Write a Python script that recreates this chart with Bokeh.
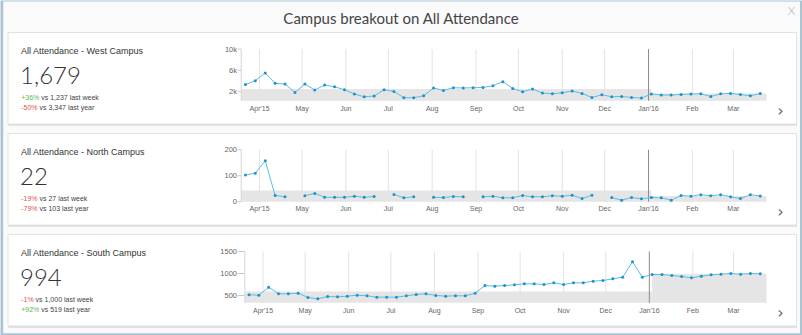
import numpy as np
import pandas as pd
from bokeh.plotting import figure
from bokeh.models import Range1d
from bokeh.core.properties import value
from bokeh.embed import file_html
from bokeh.resources import INLINE

# ---------------- data ----------------
first_week = "2015-03-22"
weeks = pd.date_range(first_week, periods=53, freq="7D")

month_starts = ["2015-04-01", "2015-05-01", "2015-06-01", "2015-07-01", "2015-08-01",
                "2015-09-01", "2015-10-01", "2015-11-01", "2015-12-01", "2016-01-01",
                "2016-02-01", "2016-03-01"]
month_labels = ["Apr'15", "May", "Jun", "Jul", "Aug", "Sep", "Oct", "Nov", "Dec",
                "Jan'16", "Feb", "Mar"]
year_divider = "2016-01-01"
band_split = "2016-01-03"
x_start, x_end = "2015-03-19", "2016-03-24 10:00"

nan = float("nan")
west = [3347, 4080, 5530, 3570, 3450, 1870, 3450, 2320, 3260, 2940,
        2380, 1570, 1060, 1190, 2380, 2060, 870, 870, 1250, 2700,
        2250, 2750, 2700, 2750, 2810, 3130, 3890, 2620, 2000, 2510,
        1750, 1620, 1810, 2130, 1680, 920, 1430, 1060, 1110, 920,
        810, 1570, 1380, 1380, 1490, 1570, 1620, 1110, 1620, 1680,
        1490, 1237, 1679]
north = [103, 110, 158, 24, 19, nan, 23, 32, 17, 17,
         17, 21, 17, 20, nan, 28, 15, 19, nan, 17,
         16, 20, 19, nan, 19, 21, 15, 15, 24, 19,
         19, 23, 21, 25, 12, 25, nan, 16, 6, 16,
         11, 16, 15, 6, 24, 21, 27, 23, 27, 19,
         12, 27, 22]
south = [519, 507, 689, 538, 538, 553, 455, 424, 477, 470,
         485, 507, 493, 462, 462, 462, 493, 523, 538, 500,
         485, 493, 493, 553, 727, 712, 727, 742, 765, 765,
         750, 788, 750, 788, 788, 826, 841, 879, 917, 1265,
         917, 977, 977, 955, 932, 902, 939, 970, 985, 1000,
         985, 1000, 994]
series = [west, north, south]

card_titles = ["All Attendance - West Campus", "All Attendance - North Campus",
               "All Attendance - South Campus"]
current_values = ["1,679", "22", "994"]
week_pct = ["+36%", "-19%", "-1%"]
week_prev = ["1,237", "27", "1,000"]
year_pct = ["-50%", "-79%", "+92%"]
year_prev = ["3,347", "103", "519"]

y_ticks = [[2000, 6000, 10000], [0, 100, 200], [500, 1000, 1500]]
y_tick_labels = [["2k", "6k", "10k"], ["0", "100", "200"], ["500", "1000", "1500"]]
y_start = [300, 0, 334]
y_end = [10000, 200, 1500]
band_before = [2510, 43, 591]
band_after = [1679, 22, 994]

# ---------------- layout / style ----------------
W, H = 802, 335
card_tops = [32, 133, 234]
card_h = 91.5
plot_left = [240.7, 240.7, 244.3]
plot_right = 766
plot_top = [48.6, 149.3, 251.0]
plot_bottom = [100.3, 201.2, 302.3]

GREEN = "#5cb85c"
RED = "#d9534f"
LINE = "#5bbde3"
DOT = "#1c93cc"
SANS = value("Liberation Sans")


def ms(d):
    return pd.Timestamp(d).value / 1e6


wk = [ms(d) for d in weeks]
mt = [ms(d) for d in month_starts]

# approximate Helvetica advance widths (em) for composing coloured runs
CW = {"+": .584, "-": .333, "%": .889, " ": .278, "0": .556, "1": .556, "2": .556,
      "3": .556, "4": .556, "5": .556, "6": .556, "7": .556, "8": .556, "9": .556}


def text_w(s, size):
    return sum(CW.get(c, .5) for c in s) * size


p = figure(width=W, height=H, x_range=Range1d(0, W), y_range=Range1d(H, 0),
           x_axis_type=None, y_axis_type=None, toolbar_location=None,
           output_backend="svg", min_border=0, outline_line_color=None,
           background_fill_color="#a9c5d3", border_fill_color="#a9c5d3")

# modal background
p.quad(left=[2.7], right=[799.5], top=[1], bottom=[332.7],
       fill_color="#fafafa", line_color=None)
p.text(x=[W / 2], y=[17], text=["Campus breakout on All Attendance"],
       text_font=value("Lato"), text_font_size="15px", text_color="#444444",
       text_align="center", text_baseline="middle")
p.text(x=[791], y=[10], text=["X"], text_font=value("Lato Light"), text_font_size="12px",
       text_color="#a8a8a8", text_align="center", text_baseline="middle")

FS = 7
for i in range(3):
    top = card_tops[i]
    # card shadow + card
    p.quad(left=[7.5], right=[796.5], top=[top + 1], bottom=[top + card_h + 1.8],
           fill_color="#d4d4d4", fill_alpha=0.8, line_color=None)
    p.quad(left=[7.5], right=[796], top=[top], bottom=[top + card_h],
           fill_color="#ffffff", line_color="#e2e2e2", line_width=1)

    # left texts
    p.text(x=[20.5], y=[top + 18.5], text=[card_titles[i]], text_font=SANS,
           text_font_size="9px", text_color="#333333", text_baseline="middle")
    p.text(x=[19.5], y=[top + 43], text=[current_values[i]], text_font=value("Lato Light"),
           text_font_size="24px", text_color="#333333", text_baseline="middle")
    for pct, rest, yy in [(week_pct[i], "vs " + week_prev[i] + " last week", 65.3),
                          (year_pct[i], "vs " + year_prev[i] + " last year", 74.8)]:
        col = GREEN if pct.startswith("+") else RED
        p.text(x=[20.7], y=[top + yy], text=[pct], text_font=SANS, text_font_size=f"{FS}px",
               text_color=col, text_baseline="middle")
        p.text(x=[20.7 + text_w(pct + " ", FS)], y=[top + yy], text=[rest], text_font=SANS,
               text_font_size=f"{FS}px", text_color="#444444", text_baseline="middle")
    # chevron
    p.text(x=[780], y=[top + 77.5], text=["\u203a"], text_font=value("DejaVu Sans"),
           text_font_size="16px", text_color="#666666", text_align="center",
           text_baseline="middle")

    # ---- chart in data coordinates ----
    sub = p.subplot(x_source=Range1d(ms(x_start), ms(x_end)),
                    y_source=Range1d(y_start[i], y_end[i]),
                    x_target=Range1d(plot_left[i], plot_right),
                    y_target=Range1d(plot_bottom[i], plot_top[i]))
    sub.quad(left=[ms(x_start), ms(band_split)], right=[ms(band_split), ms(x_end)],
             bottom=[y_start[i], y_start[i]], top=[band_before[i], band_after[i]],
             fill_color="#e5e5e5", line_color=None)
    grid_x = [m for m in mt if m != ms(year_divider)]
    sub.segment(x0=grid_x, x1=grid_x, y0=[y_start[i]] * len(grid_x), y1=[y_end[i]] * len(grid_x),
                line_color="#e3e3e3", line_width=1)
    sub.segment(x0=[ms(year_divider)], x1=[ms(year_divider)], y0=[y_start[i]], y1=[y_end[i]],
                line_color="#8c8c8c", line_width=1)
    sub.segment(x0=[ms(x_start)], x1=[ms(x_start)], y0=[y_start[i]], y1=[y_end[i]],
                line_color="#d6d6d6", line_width=1)
    sub.line(x=wk, y=series[i], line_color=LINE, line_width=1)
    sub.scatter(x=wk, y=series[i], size=3, marker="circle", fill_color=DOT, line_color=None)

    # ---- y axis (pixel x, data y) ----
    yax = p.subplot(x_source=Range1d(0, W), x_target=Range1d(0, W),
                    y_source=Range1d(y_start[i], y_end[i]),
                    y_target=Range1d(plot_bottom[i], plot_top[i]))
    n = len(y_ticks[i])
    yax.segment(x0=[237.3] * n, x1=[plot_left[i]] * n, y0=y_ticks[i], y1=y_ticks[i],
                line_color="#c8c8c8", line_width=1)
    yax.text(x=[236.5] * n, y=y_ticks[i], text=y_tick_labels[i], text_font=SANS,
             text_font_size="7.5px", text_color="#666666", text_align="right",
             text_baseline="middle")

    # ---- x axis labels (data x, pixel y) ----
    xax = p.subplot(x_source=Range1d(ms(x_start), ms(x_end)),
                    x_target=Range1d(plot_left[i], plot_right),
                    y_source=Range1d(0, H), y_target=Range1d(0, H))
    xax.text(x=mt, y=[plot_bottom[i] + 7.2] * len(mt), text=month_labels, text_font=SANS,
             text_font_size="7px", text_color="#666666", text_align="center",
             text_baseline="middle")

open("out.html", "w").write(file_html(p, INLINE))
